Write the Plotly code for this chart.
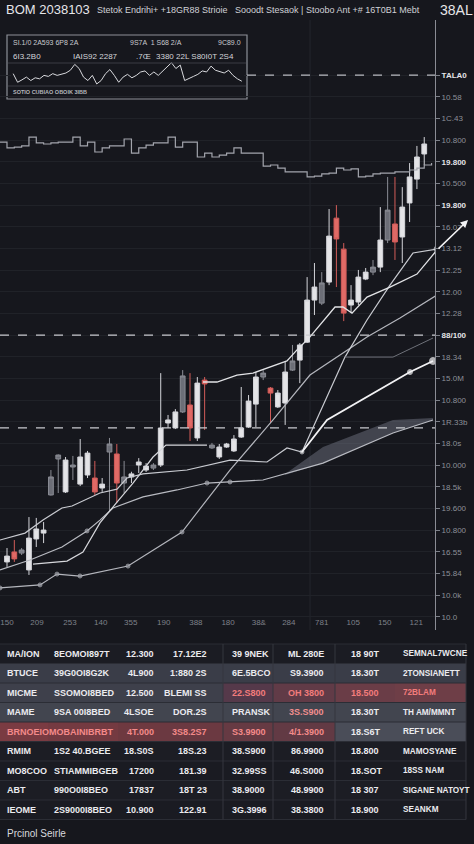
import plotly.graph_objects as go

W, H = 474, 844

# ---------------- data ----------------
CANDLE_KIND = ['w','r','g','w','w','w','g','g','w','g',
               'w','w','r','w','g','r','g','w','w','w',
               'g','w','w','w','g','r','w','r','g','w',
               'w','w','w','w','w','g','r','w','w','g',
               'w','w','w','g','w','r','r','w','w','w',
               'g','w','g','r','w','w','w','w']
OPEN = [12.54,13.00,12.95,12.17,13.60,13.87,15.63,17.29,15.77,16.92,
        16.13,16.55,16.41,15.95,17.61,17.52,16.18,16.46,17.01,16.78,
        16.87,17.01,18.95,18.72,19.46,19.78,18.26,20.93,17.80,17.38,
        17.84,17.66,18.30,18.76,19.82,21.07,20.56,19.69,19.87,21.39,
        21.85,22.68,24.62,24.48,25.45,28.40,26.97,24.39,24.53,25.59,
        25.91,26.14,27.39,28.13,27.53,29.10,30.20,31.36]
HIGH = [13.18,13.55,13.18,14.61,14.57,14.38,16.78,17.50,17.38,17.43,
        18.21,17.66,17.20,16.41,18.26,17.98,17.20,16.70,17.33,17.10,
        17.10,21.25,19.32,19.59,21.39,21.25,21.07,21.07,18.03,17.98,
        18.03,18.39,20.61,20.24,21.30,21.39,20.61,20.47,21.76,22.55,
        22.64,25.68,26.33,25.91,28.82,29.00,27.25,25.31,26.01,26.10,
        26.47,28.91,30.30,30.30,29.83,30.94,31.73,32.14]
LOW = [12.31,12.54,12.86,11.94,13.23,13.41,15.60,15.72,15.72,16.32,
       16.04,16.41,15.63,15.77,14.84,15.26,15.72,16.18,16.64,16.69,
       16.78,16.92,18.72,18.67,19.41,18.12,18.12,18.63,17.75,17.29,
       17.80,17.61,18.26,18.72,18.76,20.93,18.95,19.64,18.86,21.35,
       20.79,22.64,23.93,24.39,25.31,25.22,23.65,24.02,24.39,25.54,
       25.77,25.91,27.25,26.47,26.33,28.22,29.74,30.85]
CLOSE = [12.81,12.68,13.09,13.64,14.06,14.01,16.46,17.47,17.24,17.01,
         17.38,17.56,15.77,16.13,17.98,16.18,16.46,16.60,17.15,16.96,
         17.01,18.72,19.09,19.46,21.12,18.72,20.79,20.75,17.93,17.84,
         17.98,18.21,18.72,19.96,21.07,21.25,20.33,20.33,21.30,21.81,
         22.55,24.62,25.22,25.41,27.57,27.44,24.02,24.62,25.68,25.91,
         26.14,27.39,28.77,27.30,28.91,30.30,31.22,31.82]

STEP_X = list(range(-1, 59))
STEP_Y = [31.91,31.64,31.68,31.73,32.14,31.87,31.82,31.87,31.91,31.91,
          32.14,31.73,31.91,31.45,31.64,31.73,31.73,32.05,31.40,31.64,
          31.77,31.87,31.87,32.14,31.68,31.91,31.91,31.22,31.40,31.22,
          31.31,31.40,31.64,31.40,31.40,31.40,30.80,30.85,30.71,30.53,
          30.53,30.53,30.30,30.34,30.44,30.48,30.71,30.62,30.67,30.30,
          30.34,30.44,30.48,30.48,30.53,30.53,30.62,30.71,30.85,30.94]

LINE_A_X = [-0.96, 2.46, 4.92, 7.51, 8.88, 12.70, 15.03, 16.39, 18.58, 24.59, 30.46, 35.52, 38.25, 40.30, 46.17, 49.18, 52.32, 55.46, 58.74]
LINE_A_Y = [13.55, 13.87, 14.47, 15.03, 15.12, 15.72, 15.90, 16.41, 16.60, 16.78, 17.24, 17.15, 17.80, 17.61, 21.99, 23.70, 25.31, 26.79, 26.97]
LINE_B_X = [-0.96, 3.14, 7.51, 10.93, 12.70, 14.48, 18.58, 23.22, 27.32, 30.46, 34.97, 43.17, 52.73, 58.20]
LINE_B_Y = [12.17, 12.63, 13.23, 13.97, 14.47, 15.03, 15.54, 15.86, 16.18, 16.23, 16.32, 17.10, 18.49, 19.09]
BAND_X = [38.0, 43.17, 52.73, 58.20]
BAND_LO = [16.55, 17.10, 18.49, 19.09]
BAND_HI = [16.60, 17.84, 19.09, 19.18]
LINE_C_X = [-0.96, 4.51, 6.83, 9.97, 16.53, 23.91, 30.46, 36.34, 41.39, 46.45, 49.18, 53.69, 58.74]
LINE_C_Y = [11.34, 11.48, 11.98, 11.89, 12.35, 13.92, 16.78, 19.09, 21.16, 22.32, 22.92, 23.79, 24.85]
LINE_D_X = [3.55, 8.20, 10.38, 12.70, 15.03, 17.21, 19.95, 21.72, 27.32]
LINE_D_Y = [12.44, 12.58, 13.00, 14.34, 15.30, 16.18, 17.38, 17.93, 17.93]
LINE_E_X = [26.78, 28.69, 31.42, 33.61, 38.25, 39.62, 41.39, 44.81, 45.90, 47.13, 49.18, 52.32, 56.01, 58.74, 62.98]
LINE_E_Y = [20.84, 20.84, 21.16, 21.25, 21.81, 22.32, 22.92, 24.30, 24.30, 24.02, 24.76, 25.22, 25.82, 26.93, 28.31]
LINE_F_X = [40.30, 43.72, 55.05, 58.20]
LINE_F_Y = [17.61, 19.09, 21.30, 21.81]
LINE_G_X = [46.17, 52.73, 58.20]
LINE_G_Y = [21.99, 21.99, 22.87]

LEVEL_TOP, LEVEL_MID, LEVEL_LOW = 35.0, 23.0, 18.72

MINI = [30, 5, 12, 20, 10, 18, 15, 25, 22, 30, 25, 28, 32, 40, 57, 45, 20, 10, 25, 0,
        10, 30, 42, 25, 5, 20, 28, 18, 25, 35, 38, 25, 35, 25, 38, 50, 62, 45, 55, 10,
        15, 22, 28, 38, 35, 52, 40, 35, 32, 40, 25, 15, 8]

Y_TICKS = list(range(10, 36))
Y_LABELS = ["10.0", "10.0k", "15.84", "16.55", "10.800", "19.600", "18.5k", "10.000",
            "18.0s", "1R.33b", "10.800", "15.0M", "18.34", "88/100", "12.28", "12.00",
            "12.25", "13.12", "16.07", "19.800", "10.500", "19.800", "10.800", "1C.43",
            "10.58", "TALA0"]
Y_BOLD = {23, 29, 31, 35}
X_TICKS = [0, 4.1, 8.6, 12.8, 16.9, 21.4, 25.8, 30.2, 34.4, 38.5, 43.0, 47.3, 51.6, 55.9]
X_LABELS = ["150", "209", "253", "140", "355", "190", "388", "180", "38&", "284", "781", "105", "150", "121"]

TABLE_ROWS = [
    ["MA/ION", "8EOMOI897T", "12.300", "17.12E2", "39 9NEK", "ML 280E", "18 90T", "SEMNAL7WCNE"],
    ["BTUCE", "39G0OI8G2K", "4L900", "1:880 2S", "6E.5BCO", "S9.3900", "18.30T", "2TONSIANETT"],
    ["MICME", "SSOMOI8BED", "12.500", "BLEMI SS", "22.S800", "OH 3800", "18.500", "72BLAM"],
    ["MAME", "9SA 00I8BED", "4LSOE", "DOR.2S", "PRANSK", "3S.S900", "18.30T", "TH AM/MMNT"],
    ["BRNOEIOMOBAINIBRBT", "", "4T.000", "3S8.2S7", "S3.9900", "4/1.3900", "18.S6T", "REFT UCK"],
    ["RMIM", "1S2 40.BGEE", "18.S0S", "18S.23", "38.S900", "86.9900", "18.800", "MAMOSYANE"],
    ["MO8COO", "STIAMMIBGEB", "17200", "181.39", "32.99SS", "46.S000", "18.SOT", "18SS NAM"],
    ["ABT", "990O0I8BEO", "17837", "18T 23", "38.9000", "48.9900", "18 307", "SIGANE NATOYT"],
    ["IEOME", "2S9000I8BEO", "10.900", "122.91", "3G.3996", "38.3800", "18.900", "SEANKM"],
]

TITLE = "BOM 2038103"
SUBTITLE = "Stetok Endrihi+ +18GR88 Strioie   Sooodt Stesaok | Stoobo Ant +# 16T0B1 Mebt"
CORNER = "38AL"
FOOTER = "Prcinol Seirle"

# ---------------- styling / layout ----------------
BG = "#16171d"
FONT = "Liberation Sans, Arial, sans-serif"
PLOT_TOP, PLOT_BOTTOM, PLOT_RIGHT = 20, 630, 435
XR = [-0.956, 58.47]
YR = [9.40, 37.54]
XDOM = [0, PLOT_RIGHT / W]
YDOM = [1 - PLOT_BOTTOM / H, 1 - PLOT_TOP / H]


def px(v):
    return v / W


def py(v):
    return 1 - v / H


fig = go.Figure()

# step line
fig.add_trace(go.Scatter(x=STEP_X, y=STEP_Y, mode="lines", line=dict(color="#a3a5ad", width=1.2, shape="hv"),
                         hoverinfo="skip", showlegend=False))

# band
fig.add_trace(go.Scatter(x=BAND_X, y=BAND_LO, mode="lines", line=dict(width=0), hoverinfo="skip", showlegend=False))
fig.add_trace(go.Scatter(x=BAND_X, y=BAND_HI, mode="lines", line=dict(width=0), fill="tonexty",
                         fillcolor="rgba(110,114,128,0.5)", hoverinfo="skip", showlegend=False))


def add_line(x, y, color, width, sizes=None, mcolor=None):
    fig.add_trace(go.Scatter(
        x=x, y=y, mode="lines+markers" if sizes else "lines",
        line=dict(color=color, width=width),
        marker=dict(size=sizes or 0, color=mcolor or color),
        hoverinfo="skip", showlegend=False))


add_line(LINE_B_X, LINE_B_Y, "#b9bbc2", 1.2, [0, 0, 0, 4, 0, 0, 0, 0, 4, 4, 0, 0, 0, 0], "#9a9ca4")
add_line(LINE_C_X, LINE_C_Y, "#b4b6bd", 1.2, [4, 4, 4, 4, 4, 4, 0, 0, 0, 0, 0, 0, 0], "#9a9ca4")
add_line(LINE_D_X, LINE_D_Y, "#d6d7dc", 1.2)
add_line(LINE_A_X, LINE_A_Y, "#c9cbd1", 1.2, [0] * 13 + [4, 0, 0, 0, 0, 6], "#e8e8ea")
add_line(LINE_G_X, LINE_G_Y, "#6e7179", 1.0)
add_line(LINE_E_X, LINE_E_Y, "#e2e3e6", 1.3)
add_line(LINE_F_X, LINE_F_Y, "#f2f2f4", 1.8, [0, 0, 5, 7], "#f4f4f6")


def subset(kind):
    idx = [i for i, k in enumerate(CANDLE_KIND) if k == kind]
    return (idx, [OPEN[i] for i in idx], [HIGH[i] for i in idx], [LOW[i] for i in idx], [CLOSE[i] for i in idx])


for kind, fill, line in (("g", "#6c6e77", "#8a8c94"), ("w", "#e4e4e7", "#d4d5da"), ("r", "#e06a66", "#d25c59")):
    xi, o, h, l, c = subset(kind)
    fig.add_trace(go.Candlestick(
        x=xi, open=o, high=h, low=l, close=c,
        increasing=dict(fillcolor=fill, line=dict(color=line, width=1)),
        decreasing=dict(fillcolor=fill, line=dict(color=line, width=1)),
        hoverinfo="skip", showlegend=False))

# mini line in inset
fig.add_trace(go.Scatter(x=list(range(len(MINI))), y=MINI, mode="lines", xaxis="x2", yaxis="y2",
                         line=dict(color="#d8d9dd", width=1), hoverinfo="skip", showlegend=False))

ticktext = []
for v, t in zip(Y_TICKS, Y_LABELS):
    ticktext.append("<span style='color:#e4e4e8'><b>%s</b></span>" % t if v in Y_BOLD else t)

shapes = [
    dict(type="rect", xref="paper", yref="paper", x0=px(7), x1=px(247), y0=py(99), y1=py(35),
         line=dict(color="#8d9098", width=1.2), fillcolor=BG, layer="below"),
    dict(type="line", xref="paper", yref="paper", x0=px(8), x1=px(246), y0=py(63), y1=py(63),
         line=dict(color="#3a3c44", width=1)),
    dict(type="line", xref="paper", yref="paper", x0=px(8), x1=px(246), y0=py(86), y1=py(86),
         line=dict(color="#3a3c44", width=1)),
    dict(type="line", xref="paper", yref="y", x0=px(247), x1=XDOM[1], y0=LEVEL_TOP, y1=LEVEL_TOP,
         line=dict(color="#b8bac0", width=1.2, dash="dash")),
    dict(type="line", xref="paper", yref="y", x0=0, x1=XDOM[1], y0=LEVEL_MID, y1=LEVEL_MID,
         line=dict(color="#c8c9ce", width=1.3, dash="dash")),
    dict(type="line", xref="paper", yref="y", x0=0, x1=XDOM[1], y0=LEVEL_LOW, y1=LEVEL_LOW,
         line=dict(color="#c8c9ce", width=1.3, dash="dash")),
    dict(type="line", xref="x", yref="paper", x0=41.4, x1=41.4, y0=YDOM[0], y1=YDOM[1],
         line=dict(color="#24262d", width=1), layer="below"),
]


def ann(text, x, y, size, color, anchor="left", bold=False):
    return dict(text=("<b>%s</b>" % text) if bold else text, x=px(x), y=py(y), xref="paper", yref="paper",
                xanchor=anchor, yanchor="middle", showarrow=False,
                font=dict(family=FONT, size=size, color=color))


annotations = [
    ann(TITLE, 4, 10, 13, "#e6e6ea"),
    ann(SUBTITLE, 95, 10, 9, "#d0d1d6"),
    ann(CORNER, 438, 10, 14, "#e6e6ea"),
    ann("SI.1/0 2A593 6P8 2A", 11, 43, 7, "#c9cacf"),
    ann("9S7A  1 S68 2/A", 128, 43, 7, "#c9cacf"),
    ann("9C89.0", 216, 43, 7, "#c9cacf"),
    ann("6I3.2B0", 11, 56, 8, "#d4d5da"),
    ann("IAIS92 2287", 71, 56, 8, "#d4d5da"),
    ann(".7Œ", 134, 56, 8, "#d4d5da"),
    ann("3380 22L S80I0T 2S4", 154, 56, 8, "#d4d5da"),
    ann("SOTIO CUBIAO OBOIK 3IBB", 11, 92, 5.5, "#b4b6bc", bold=True),
    ann(FOOTER, 5, 833, 10, "#d8d9dd"),
    dict(x=(LINE_E_X[-1] - XR[0]) / (XR[1] - XR[0]) * XDOM[1], y=LINE_E_Y[-1], xref="paper", yref="y",
         ax=-31, ay=30, text="", showarrow=True, arrowhead=2, arrowsize=1, arrowwidth=1.5, arrowcolor="#f2f2f4"),
]

# ---------------- table (drawn with shapes + text) ----------------
COL_EDGES = [0, 48, 118, 160, 223, 273, 335, 395, 466]
TEXT_X = [5, 52, 156, 209, 230, 326, 349, 401]
TEXT_ANCHOR = ["left", "left", "right", "right", "left", "right", "left", "left"]
TEXT_SIZE = [9, 9, 9, 9, 9, 9, 9, 8.2]
ROW_TOP, ROW_H = 644, 19.5
nrow, ncol = len(TABLE_ROWS), len(TABLE_ROWS[0])
base_fill = ["#1b1c23", "#3a3d48", "#3e404b", "#42454f", "#6c3941", "#1c1d24", "#1a1b22", "#1c1d24", "#1a1b22"]
fills = [[base_fill[r]] * ncol for r in range(nrow)]
fills[2][4:8] = ["#55394a", "#613b47", "#6a3d47", "#6e3e47"]
fills[4][0:6] = ["#7a3b42", "#743a41", "#6e3940", "#6b3941", "#663a43", "#623a44"]
fills[4][6:8] = ["#4a4d58", "#4a4d58"]
fcol = [["#ebebef"] * ncol for r in range(nrow)]
fcol[2][4:8] = ["#f27c7c"] * 4
fcol[3][5] = "#f08e8e"
fcol[4][0:6] = ["#f48a8a"] * 6

for r in range(nrow):
    y0, y1 = ROW_TOP + r * ROW_H, ROW_TOP + (r + 1) * ROW_H
    for c in range(ncol):
        shapes.append(dict(type="rect", xref="paper", yref="paper", x0=px(COL_EDGES[c]), x1=px(COL_EDGES[c + 1]),
                           y0=py(y1), y1=py(y0), fillcolor=fills[r][c], line=dict(width=0), layer="below"))
    shapes.append(dict(type="line", xref="paper", yref="paper", x0=0, x1=px(COL_EDGES[-1]), y0=py(y0), y1=py(y0),
                       line=dict(color="#2b2d35", width=1)))
    for c in range(ncol):
        txt = TABLE_ROWS[r][c]
        if txt:
            annotations.append(ann(txt, TEXT_X[c], (y0 + y1) / 2, TEXT_SIZE[c], fcol[r][c], TEXT_ANCHOR[c], bold=True))
table_bottom = ROW_TOP + nrow * ROW_H
shapes.append(dict(type="line", xref="paper", yref="paper", x0=0, x1=px(COL_EDGES[-1]), y0=py(table_bottom),
                   y1=py(table_bottom), line=dict(color="#2b2d35", width=1)))
for xe in (COL_EDGES[4], COL_EDGES[5], COL_EDGES[6], COL_EDGES[-1]):
    shapes.append(dict(type="line", xref="paper", yref="paper", x0=px(xe), x1=px(xe), y0=py(table_bottom),
                       y1=py(ROW_TOP), line=dict(color="#34363f", width=1)))

fig.update_layout(
    width=W, height=H, autosize=False,
    margin=dict(l=0, r=0, t=0, b=0, pad=0),
    paper_bgcolor=BG, plot_bgcolor=BG,
    showlegend=False,
    boxgap=0.35, boxgroupgap=0,
    xaxis=dict(domain=XDOM, range=XR, showgrid=False, zeroline=False, showline=False,
               tickvals=X_TICKS, ticktext=X_LABELS, ticks="", ticklabelposition="inside",
               tickfont=dict(family=FONT, size=8, color="#7e818a"), rangeslider=dict(visible=False),
               fixedrange=True),
    yaxis=dict(domain=YDOM, range=YR, side="right", tickvals=Y_TICKS, ticktext=ticktext,
               ticks="outside", ticklen=4, tickcolor="#7d8088", showline=True, linecolor="#8a8c94",
               linewidth=1, showgrid=True, gridcolor="#202228", gridwidth=1, zeroline=False,
               tickfont=dict(family=FONT, size=8, color="#8d9098"), fixedrange=True),
    xaxis2=dict(domain=[px(11), px(244)], range=[-0.5, len(MINI) - 0.5], visible=False, anchor="y2"),
    yaxis2=dict(domain=[py(85), py(62)], range=[-3, 64], visible=False, anchor="x2"),
    shapes=shapes,
    annotations=annotations,
)

fig.write_html("out.html")
